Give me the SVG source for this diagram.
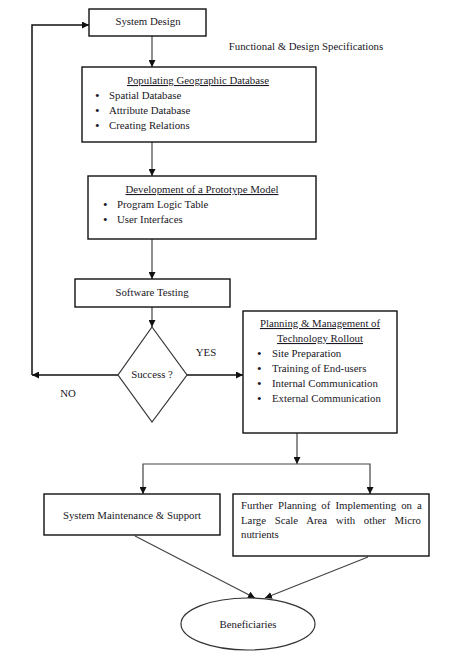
<svg xmlns="http://www.w3.org/2000/svg" width="474" height="656" viewBox="0 0 474 656">
<defs>
<marker id="ah" viewBox="0 0 10 10" refX="10" refY="5" markerWidth="7" markerHeight="7" markerUnits="userSpaceOnUse" orient="auto">
<path d="M0,0 L10,5 L0,10 z" fill="#111"/>
</marker>
</defs>
<style>
text{font-family:"Liberation Serif","Times New Roman",serif;font-size:10.8px;fill:#1a1726}
.c{text-anchor:middle}
.u{text-decoration:underline}
.b{font-size:13px}
.box{fill:#fff;stroke:#111;stroke-width:1.4}
.ln{fill:none;stroke:#444;stroke-width:1.2}
.lk{fill:none;stroke:#111;stroke-width:1.5}
</style>
<rect width="474" height="656" fill="#fff"/>
<g id="connectors">
<line class="ln" x1="152" y1="36" x2="152" y2="67" marker-end="url(#ah)"/>
<line class="ln" x1="152" y1="142" x2="152" y2="176" marker-end="url(#ah)"/>
<line class="ln" x1="152" y1="239" x2="152" y2="279" marker-end="url(#ah)"/>
<line class="ln" x1="152" y1="307" x2="152" y2="327" marker-end="url(#ah)"/>
<line class="lk" x1="118" y1="375" x2="32" y2="375" marker-end="url(#ah)"/>
<path class="lk" d="M32,375 V25 H89" marker-end="url(#ah)"/>
<line class="lk" x1="187" y1="375" x2="243" y2="375" marker-end="url(#ah)"/>
<line class="ln" x1="297" y1="433" x2="297" y2="464" marker-end="url(#ah)"/>
<path class="ln" d="M297,464 H143 V494" marker-end="url(#ah)"/>
<path class="ln" d="M297,464 H370 V494" marker-end="url(#ah)"/>
<line class="ln" x1="135" y1="536" x2="255" y2="598" marker-end="url(#ah)"/>
<line class="ln" x1="368" y1="557" x2="265" y2="598" marker-end="url(#ah)"/>
</g>
<text x="306" y="50" class="c">Functional &amp; Design Specifications</text>
<text x="68" y="397" class="c">NO</text>
<text x="206" y="356" class="c">YES</text>
<g id="system-design">
<rect class="box" x="89" y="9" width="117" height="27"/>
<text x="148" y="25" class="c">System Design</text>
</g>
<g id="populating">
<rect class="box" x="82" y="67" width="234" height="75"/>
<text x="198" y="84" class="c u">Populating Geographic Database</text>
<text x="95" y="100" class="b">•</text><text x="109" y="99">Spatial Database</text>
<text x="95" y="115" class="b">•</text><text x="109" y="114">Attribute Database</text>
<text x="95" y="130" class="b">•</text><text x="109" y="129">Creating Relations</text>
</g>
<g id="prototype">
<rect class="box" x="88" y="176" width="228" height="63"/>
<text x="202" y="193" class="c u">Development of a Prototype Model</text>
<text x="103" y="209" class="b">•</text><text x="117" y="208">Program Logic Table</text>
<text x="103" y="224" class="b">•</text><text x="117" y="223">User Interfaces</text>
</g>
<g id="software-testing">
<rect class="box" x="75" y="279" width="155" height="28"/>
<text x="152" y="296" class="c">Software Testing</text>
</g>
<g id="success">
<polygon points="152,327 187,375 152,422 118,375" fill="#fff" stroke="#333" stroke-width="1.2"/>
<text x="152" y="378" class="c">Success ?</text>
</g>
<g id="planning">
<rect class="box" x="243" y="311" width="154" height="122"/>
<text x="320" y="327" class="c u">Planning &amp; Management of</text>
<text x="320" y="342" class="c u">Technology Rollout</text>
<text x="257" y="358" class="b">•</text><text x="272" y="357">Site Preparation</text>
<text x="257" y="373" class="b">•</text><text x="272" y="372">Training of End-users</text>
<text x="257" y="388" class="b">•</text><text x="272" y="387">Internal Communication</text>
<text x="257" y="403" class="b">•</text><text x="272" y="402">External Communication</text>
</g>
<g id="maintenance">
<rect class="box" x="44" y="494" width="176" height="41"/>
<text x="132" y="519" class="c">System Maintenance &amp; Support</text>
</g>
<g id="further-planning">
<rect class="box" x="233" y="494" width="196" height="62"/>
<text x="241" y="509" word-spacing="2.4">Further Planning of Implementing on a</text>
<text x="241" y="524" word-spacing="6">Large Scale Area with other Micro</text>
<text x="241" y="538">nutrients</text>
</g>
<g id="beneficiaries">
<ellipse cx="248" cy="624" rx="67" ry="26" fill="#fff" stroke="#333" stroke-width="1.2"/>
<text x="248" y="628" class="c">Beneficiaries</text>
</g>
</svg>
